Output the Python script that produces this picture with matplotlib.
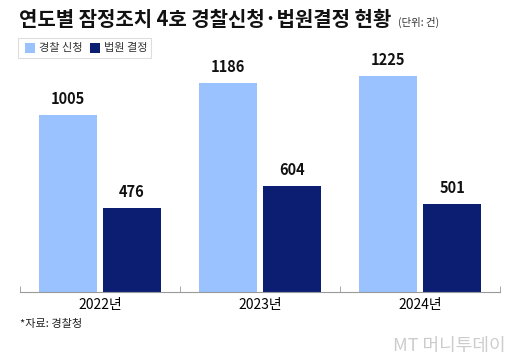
import numpy as np
import matplotlib
matplotlib.use("Agg")
import matplotlib.pyplot as plt
from matplotlib.patches import Rectangle

plt.rcParams['font.family'] = ['Noto Sans CJK KR', 'DejaVu Sans']

years = ['2022년', '2023년', '2024년']
police_req = [1005, 1186, 1225]
court_dec = [476, 604, 501]
series_names = ['경찰 신청', '법원 결정']
light_c = '#9AC2FE'
dark_c = '#0B1E72'

W, H = 520, 363
fig = plt.figure(figsize=(W / 100, H / 100), dpi=100)

# 축 영역 (픽셀 기준으로 맞춤)
ax = fig.add_axes([20 / W, (H - 292) / H, 480 / W, (292 - 63) / H])
x = np.arange(len(years))
bw = 0.3625
b1 = ax.bar(x - 0.2, police_req, bw, color=light_c)
b2 = ax.bar(x + 0.2, court_dec, bw, color=dark_c)
for bars, vals in ((b1, police_req), (b2, court_dec)):
    for r, v in zip(bars, vals):
        ax.text(r.get_x() + r.get_width() / 2, v + 45, str(v), ha='center', va='bottom',
                fontsize=10.5, fontweight='bold', color='#111111')

ax.set_xlim(-0.5, 2.5)
ax.set_ylim(0, 1300)
ax.set_yticks([])
ax.set_xticks(x)
ax.set_xticklabels(years, fontsize=10)
ax.set_xticks([-0.5, 0.5, 1.5, 2.5], minor=True)
ax.tick_params(axis='x', which='major', length=0, pad=4)
ax.tick_params(axis='x', which='minor', length=4, color='#999999', direction='in')
for s in ('top', 'left', 'right'):
    ax.spines[s].set_visible(False)
ax.spines['bottom'].set_color('#999999')
ax.spines['bottom'].set_linewidth(0.8)

# 제목
fig.text(19 / W, 1 - 20 / H, '연도별 잠정조치 4호 경찰신청·법원결정 현황', fontsize=14.4,
         fontweight='bold', va='center', ha='left', color='#111111')
fig.text(398 / W, 1 - 22 / H, '(단위: 건)', fontsize=7.5, va='center', ha='left', color='#333333')

# 범례
fig.patches.append(Rectangle((18 / W, 1 - 58 / H), 133 / W, 20 / H, transform=fig.transFigure,
                             facecolor='white', edgecolor='#dddddd', lw=0.8))
fig.patches.append(Rectangle((25 / W, 1 - 53 / H), 10 / W, 10 / H, transform=fig.transFigure,
                             facecolor=light_c, edgecolor='none'))
fig.text(39 / W, 1 - 48 / H, series_names[0], fontsize=8, va='center', ha='left', color='#333333')
fig.patches.append(Rectangle((90 / W, 1 - 53 / H), 10 / W, 10 / H, transform=fig.transFigure,
                             facecolor=dark_c, edgecolor='none'))
fig.text(104 / W, 1 - 48 / H, series_names[1], fontsize=8, va='center', ha='left', color='#333333')

# 출처 및 로고
fig.text(20 / W, 1 - 324 / H, '*자료: 경찰청', fontsize=8, va='center', ha='left', color='#222222')
fig.text(506 / W, 1 - 346 / H, 'MT 머니투데이', fontsize=13, va='center', ha='right',
         color='#cccccc', fontstyle='italic')

fig.savefig('out.png', dpi=100)
